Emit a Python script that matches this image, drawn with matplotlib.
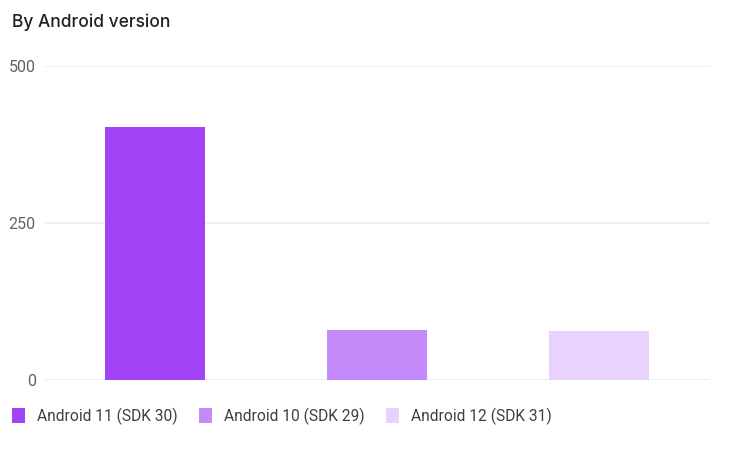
import matplotlib.pyplot as plt
from matplotlib.patches import Patch

versions = ["Android 11 (SDK 30)", "Android 10 (SDK 29)", "Android 12 (SDK 31)"]
counts = [403, 80, 78]
colors = ["#a142f4", "#c58af9", "#e9d2fd"]
yticks = [0, 250, 500]

plt.rcParams['font.family'] = ['Roboto', 'DejaVu Sans']

fig = plt.figure(figsize=(7.3, 4.55), dpi=100)
ax = fig.add_axes([44 / 730, 75 / 455, 666 / 730, 314 / 455])

x = list(range(len(versions)))
ax.bar(x, counts, width=0.446, color=colors, zorder=3)
ax.set_xlim(-0.5, 2.5)
ax.set_ylim(0, 500)
ax.set_yticks(yticks)
ax.set_yticklabels([str(v) for v in yticks], color="#5f6368", fontsize=11.5)
ax.set_xticks([])
ax.tick_params(axis="y", length=0, pad=6)
for s in ax.spines.values():
    s.set_visible(False)
for v in yticks:
    ax.axhline(v, color="#e8eaed" if v == 0 else "#eeeeee", lw=1.2, zorder=1)

fig.text(12 / 730, 1 - 22 / 455, "By Android version", fontsize=12.5, family=['Inter', 'DejaVu Sans'],
         fontweight="medium", color="#202124", va="center")

handles = [Patch(facecolor=c, edgecolor="none") for c in colors]
fig.legend(handles, versions, loc="center left", bbox_to_anchor=(-2 / 730, 1 - 416 / 455), ncol=3,
           frameon=False, fontsize=11.2, handlelength=0.85, handleheight=1.15, handletextpad=0.77,
           columnspacing=1.37, labelcolor="#3c4043")

fig.savefig("out.png", dpi=100)
